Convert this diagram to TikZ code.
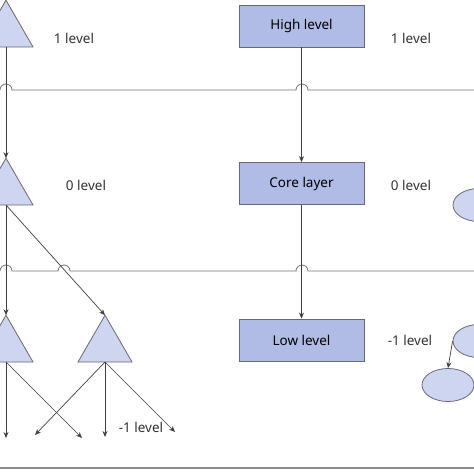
\documentclass[tikz,border=0pt]{standalone}
\usepackage{fontspec}
\setmainfont{Noto Sans}
\usetikzlibrary{shapes.geometric,arrows.meta}
\definecolor{trifill}{RGB}{206,213,240}
\definecolor{boxfill}{RGB}{176,188,230}
\definecolor{edge}{RGB}{105,105,115}
\newcommand{\lvl}{\fontsize{13.5}{16}\selectfont}

\begin{document}
\begin{tikzpicture}[x=1pt,y=1pt,
    tri/.style={regular polygon,regular polygon sides=3,minimum size=62.4pt,
                inner sep=0pt,outer sep=0pt,fill=trifill,draw=edge,line width=0.8pt},
    layer/.style={rectangle,minimum width=125pt,minimum height=42pt,inner sep=0pt,
                  fill=boxfill,draw=edge,line width=0.8pt,font=\lvl},
    blob/.style={ellipse,minimum width=52pt,minimum height=33pt,inner sep=0pt,
                 fill=trifill,draw=edge,line width=0.8pt},
    arr/.style={-{Stealth[length=6pt,width=5pt]},line width=0.7pt,draw=black!75},
    sep/.style={line width=0.8pt,draw=black!55},
    lbl/.style={font=\lvl,text=black!80}]
   \useasboundingbox (0,0) rectangle (474,-474);
   \clip (0,0) rectangle (474,-474);
   % left column
   \node[tri] (t1) at (6,-31.4)  {};
   \node[tri] (t2) at (6,-189.4) {};
   \node[tri] (t3) at (6,-346.4) {};
   \node[tri] (t4) at (105,-346.4) {};
   \coordinate (e1) at (6,-438);
   \coordinate (e2) at (82,-438);
   \coordinate (e3) at (35,-435);
   \coordinate (e4) at (105,-437);
   \coordinate (e5) at (175,-432);
   % right column
   \node[layer] (hi)   at (301.5,-26)    {High level};
   \node[layer] (core) at (301.5,-183.5) {Core layer};
   \node[layer] (lo)   at (301.5,-340)   {Low level};
   \node[blob] (b1) at (479,-205) {};
   \node[blob] (b2) at (479,-341) {};
   \node[blob] (b3) at (448,-385) {};
   % separators
   \draw[sep] (0,-90) arc[start angle=180,end angle=0,radius=6pt] -- (296,-90)
      arc[start angle=180,end angle=0,radius=6pt] -- (474,-90);
   \draw[sep] (0,-271) arc[start angle=180,end angle=0,radius=6pt] -- (58,-271)
      arc[start angle=180,end angle=0,radius=6pt] -- (296,-271)
      arc[start angle=180,end angle=0,radius=6pt] -- (474,-271);
   \draw[line width=1.6pt,draw=black!45] (0,-468) -- (474,-468);
   % arrows
   \draw[arr] (t1.side 2) -- (t2.corner 1);
   \draw[arr] (t2.side 2) -- (t3.corner 1);
   \draw[arr] (t2.side 2) -- (t4.corner 1);
   \draw[arr] (t3.side 2) -- (e1);
   \draw[arr] (t3.side 2) -- (e2);
   \draw[arr] (t4.side 2) -- (e3);
   \draw[arr] (t4.side 2) -- (e4);
   \draw[arr] (t4.side 2) -- (e5);
   \draw[arr] (hi) -- (core);
   \draw[arr] (core) -- (lo);
   \draw[arr] (b2.west) -- (b3.north);
   % level labels
   \node[lbl] (l1) at (74,-38)   {1 level};
   \node[lbl] (l2) at (86,-185)  {0 level};
   \node[lbl] (l3) at (141,-427) {-1 level};
   \node[lbl] (r1) at (411,-38)  {1 level};
   \node[lbl] (r2) at (411,-185) {0 level};
   \node[lbl] (r3) at (410,-340) {-1 level};
\end{tikzpicture}
\end{document}
